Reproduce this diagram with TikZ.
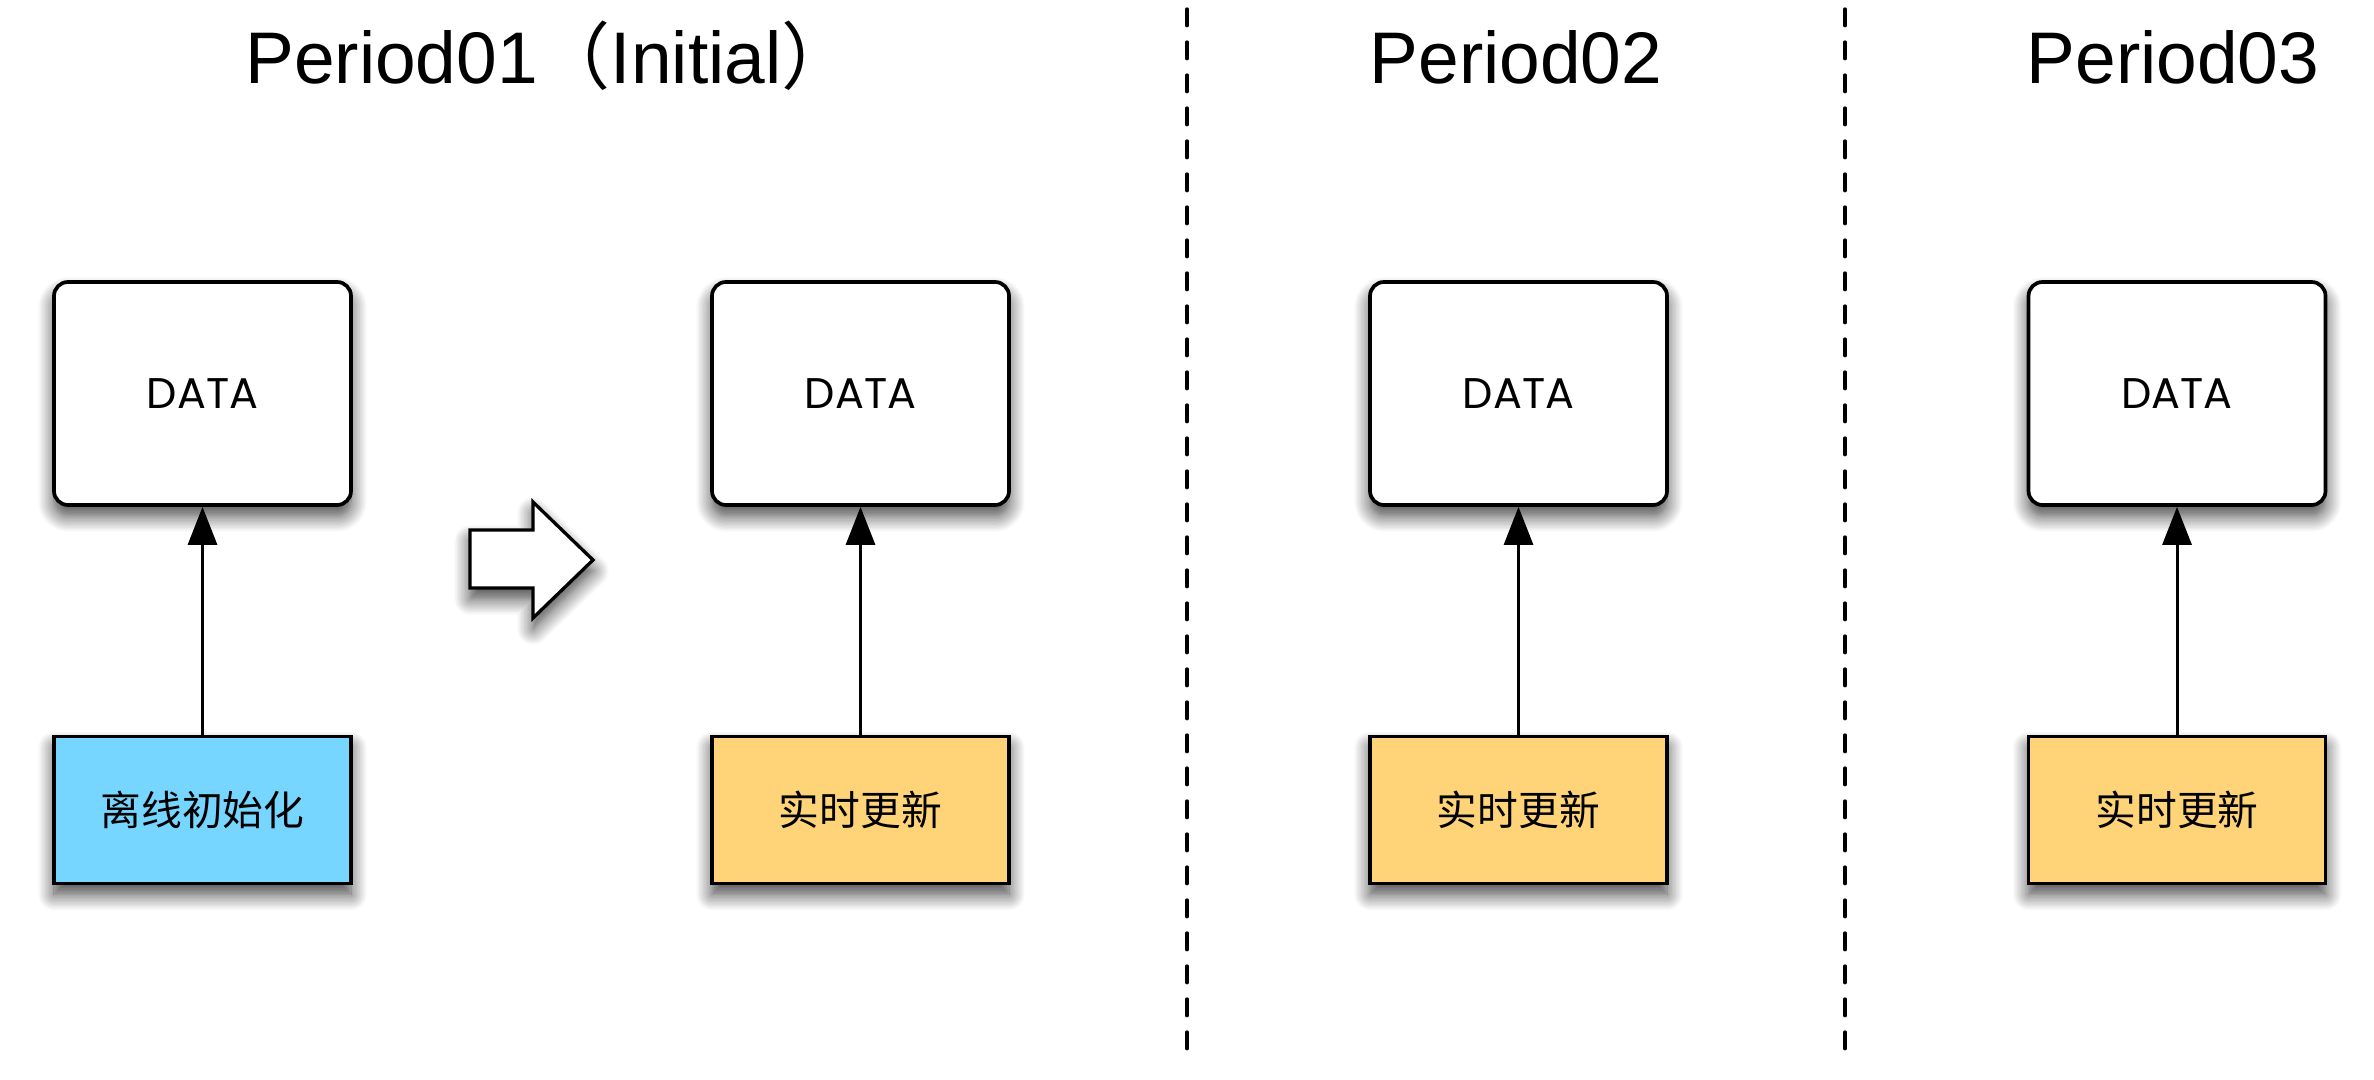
\documentclass[tikz,border=0pt]{standalone}
\usepackage{fontspec}
\setmainfont{Liberation Sans}
\newfontfamily\cjk{Noto Sans CJK SC}
\newfontfamily\geo{Poppins}
\usepackage{tikz}
\usetikzlibrary{arrows.meta, positioning, shadows.blur}
\definecolor{sky}{HTML}{76D6FF}
\definecolor{cantaloupe}{HTML}{FFD479}

\begin{document}
\begin{tikzpicture}[>={Triangle[length=0.38cm,width=0.29cm]},
	myshadow/.style={blur shadow={shadow xshift=0cm, shadow yshift=-0.11cm, shadow blur radius=0.16cm, shadow blur steps=12, shadow opacity=75}},
	databox/.style={draw, line width=0.037cm, rounded corners=0.14cm, fill=white, myshadow,
		minimum width=2.97cm, minimum height=2.23cm, font=\geo\fontsize{12.2}{14}\selectfont},
	initbox/.style={draw, line width=0.037cm, fill=sky, myshadow,
		minimum width=2.97cm, minimum height=1.47cm, font=\cjk\fontsize{11.6}{14}\selectfont},
	updatebox/.style={initbox, fill=cantaloupe},
	period/.style={anchor=base, font=\fontsize{20.8}{24}\selectfont},
	feed/.style={->, line width=0.03cm},
	divider/.style={line width=0.033cm, line cap=round, dash pattern=on 0.167cm off 0.163cm}]
				\useasboundingbox (0,0) rectangle (23.74,10.79);

				% Period titles
				\node[period] (t1) at (5.50,9.95) {Period01{\cjk （}Initial{\cjk ）}};
				\node[period] (t2) at (15.16,9.95) {Period02};
				\node[period] (t3) at (21.73,9.95) {Period03};

				% Dividers between periods
				\coordinate (d1top) at (11.87,10.70);
				\coordinate (d1bot) at (11.87,0.18);
				\coordinate (d2top) at (18.45,10.70);
				\coordinate (d2bot) at (18.45,0.18);
				\draw[divider] (d1top) -- (d1bot);
				\draw[divider] (d2top) -- (d2bot);

				% Initial: offline init feeds the data
				\node[databox] (data0) at (2.025,6.855) {DATA};
				\node[initbox] (init) at (2.025,2.69) {离线初始化};
				\draw[feed] (init) -- (data0);

				% Real time updates, one per period
				\node[databox] (data1) at (8.605,6.855) {DATA};
				\node[updatebox] (upd1) at (8.605,2.69) {实时更新};
				\draw[feed] (upd1) -- (data1);

				\node[databox] (data2) at (15.185,6.855) {DATA};
				\node[updatebox] (upd2) at (15.185,2.69) {实时更新};
				\draw[feed] (upd2) -- (data2);

				\node[databox] (data3) at (21.77,6.855) {DATA};
				\node[updatebox] (upd3) at (21.77,2.69) {实时更新};
				\draw[feed] (upd3) -- (data3);

				% Hollow arrow to the real time step
				\begin{scope}
				\draw[line width=0.033cm, fill=white, myshadow]
					(4.70,5.49) -- (5.33,5.49) -- (5.33,5.77) -- (5.93,5.19)
					-- (5.33,4.61) -- (5.33,4.91) -- (4.70,4.91) -- cycle;
				\end{scope}
			\end{tikzpicture}
\end{document}
